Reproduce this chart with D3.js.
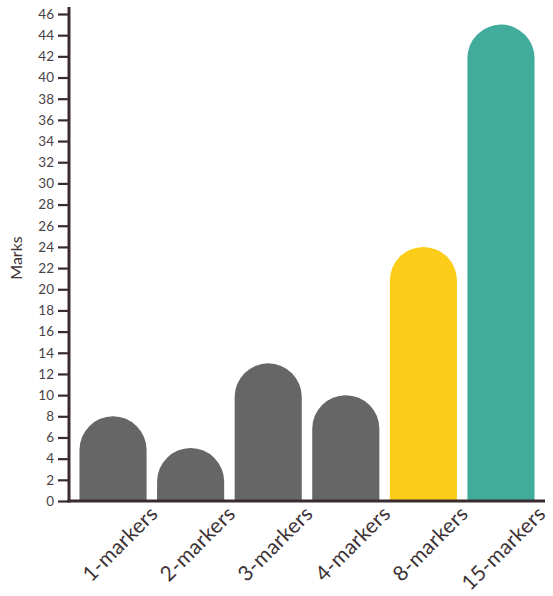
<!DOCTYPE html>
<html>
<head>
<meta charset="utf-8">
<script src="https://d3js.org/d3.v7.min.js"></script>
<style>
body { margin: 0; background: #fff; }
.tick text { font-family: Lato, sans-serif; }
</style>
</head>
<body>
<svg width="553" height="596"></svg>
<script>
const categories = ['1-markers', '2-markers', '3-markers', '4-markers', '8-markers', '15-markers'];
const marks = [8, 5, 13, 10, 24, 45];
const barColors = ['#666666', '#666666', '#666666', '#666666', '#fbcd18', '#42ac9c'];
const yTicks = d3.range(0, 47, 2);

const svg = d3.select('svg');
const axisColor = '#3a2b2f';

const x = d3.scaleBand()
  .domain(categories)
  .range([69, 545])
  .paddingInner(0.135)
  .paddingOuter(0.135);

const y = d3.scaleLinear()
  .domain([0, 46])
  .range([501, 14]);

// bars with a round top
const bw = x.bandwidth();
const r = bw / 2;
svg.append('g').selectAll('path')
  .data(categories)
  .enter().append('path')
    .attr('fill', (d, i) => barColors[i])
    .attr('d', (d, i) => {
      const x0 = x(d), x1 = x0 + bw;
      const top = y(marks[i]) + r;
      return `M${x0},${y(0)}V${top}A${r},${r} 0 0 1 ${x1},${top}V${y(0)}Z`;
    });

// y axis
const yAxisG = svg.append('g')
  .attr('transform', 'translate(69,0)')
  .call(d3.axisLeft(y).tickValues(yTicks).tickSize(11).tickPadding(4).tickSizeOuter(0));
yAxisG.select('.domain').remove();
yAxisG.selectAll('.tick line').attr('stroke', axisColor).attr('stroke-width', 2.2);
yAxisG.selectAll('.tick text').attr('fill', '#4a4346').attr('font-size', 13.5);
svg.append('line')
  .attr('x1', 69).attr('x2', 69).attr('y1', 7).attr('y2', 502.5)
  .attr('stroke', axisColor).attr('stroke-width', 3);

// x axis
svg.append('line')
  .attr('x1', 67.5).attr('x2', 545).attr('y1', 501).attr('y2', 501)
  .attr('stroke', axisColor).attr('stroke-width', 3);

svg.append('g').selectAll('text')
  .data(categories)
  .enter().append('text')
    .attr('transform', d => `translate(${x(d) + bw / 2 + 46},515) rotate(-45)`)
    .attr('text-anchor', 'end')
    .attr('font-family', 'Lato, sans-serif')
    .attr('font-size', 21)
    .attr('letter-spacing', 0.3)
    .attr('fill', '#3d3336')
    .text(d => d);

svg.append('text')
  .attr('transform', 'translate(22,258) rotate(-90)')
  .attr('text-anchor', 'middle')
  .attr('font-family', 'Lato, sans-serif')
  .attr('font-size', 16)
  .attr('fill', '#3d3336')
  .text('Marks');
</script>
</body>
</html>
